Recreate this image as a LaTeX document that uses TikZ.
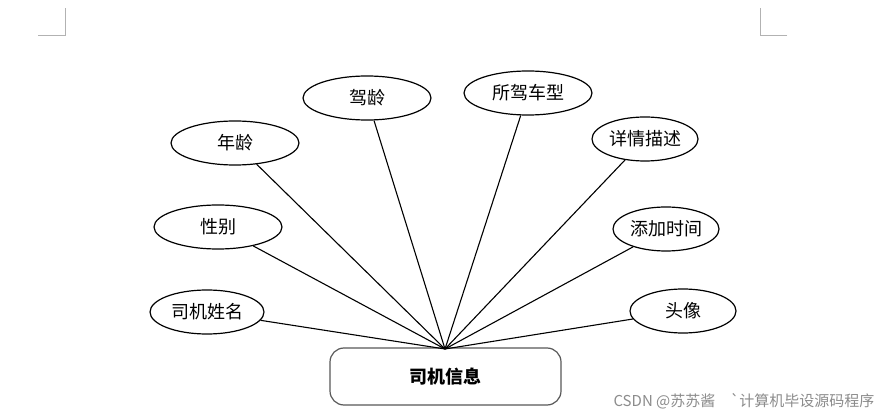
\documentclass[tikz,border=0pt]{standalone}
\usepackage{fontspec}
\newfontfamily\cjk{Noto Sans CJK SC}
\usetikzlibrary{shapes.geometric}
\begin{document}
\begin{tikzpicture}[x=1pt,y=-1pt,
  attr/.style={ellipse,draw,line width=1.2pt,inner sep=0pt,font=\cjk\fontsize{18}{18}\selectfont},
  link/.style={line width=1.1pt}]
\useasboundingbox (0,0) rectangle (888,419);
\fill[white] (0,0) rectangle (888,419);
\draw[gray!60] (38,35) -- (65,35) -- (65,8);
\draw[gray!60] (787,35) -- (760,35) -- (760,8);
\node[attr,minimum width=128pt,minimum height=44pt] (jl) at (367,98) {驾龄};
\node[attr,minimum width=128pt,minimum height=44pt] (cx) at (528,93) {所驾车型};
\node[attr,minimum width=128pt,minimum height=44pt] (nl) at (235,143) {年龄};
\node[attr,minimum width=106pt,minimum height=44pt] (ms) at (645,139) {详情描述};
\node[attr,minimum width=128pt,minimum height=44pt] (xb) at (218,227) {性别};
\node[attr,minimum width=106pt,minimum height=44pt] (sj) at (666,229) {添加时间};
\node[attr,minimum width=114pt,minimum height=44pt] (xm) at (207,312) {司机姓名};
\node[attr,minimum width=106pt,minimum height=44pt] (tx) at (683,311) {头像};
\node[draw=gray!70!black,line width=1.2pt,rounded corners=14pt,minimum width=231pt,minimum height=57pt,
  font=\cjk\bfseries\fontsize{18}{18}\selectfont] (main) at (445.5,376.5) {司机信息};
\coordinate (c) at (445,349);
\foreach \n in {jl,cx,nl,ms,xb,sj,xm,tx} \draw[link] (\n) -- (c);
\node[anchor=east,text=gray!90,font=\cjk\fontsize{15}{15}\selectfont] (wm) at (878,401) {CSDN @苏苏酱\quad `计算机毕设源码程序};
\end{tikzpicture}
\end{document}
